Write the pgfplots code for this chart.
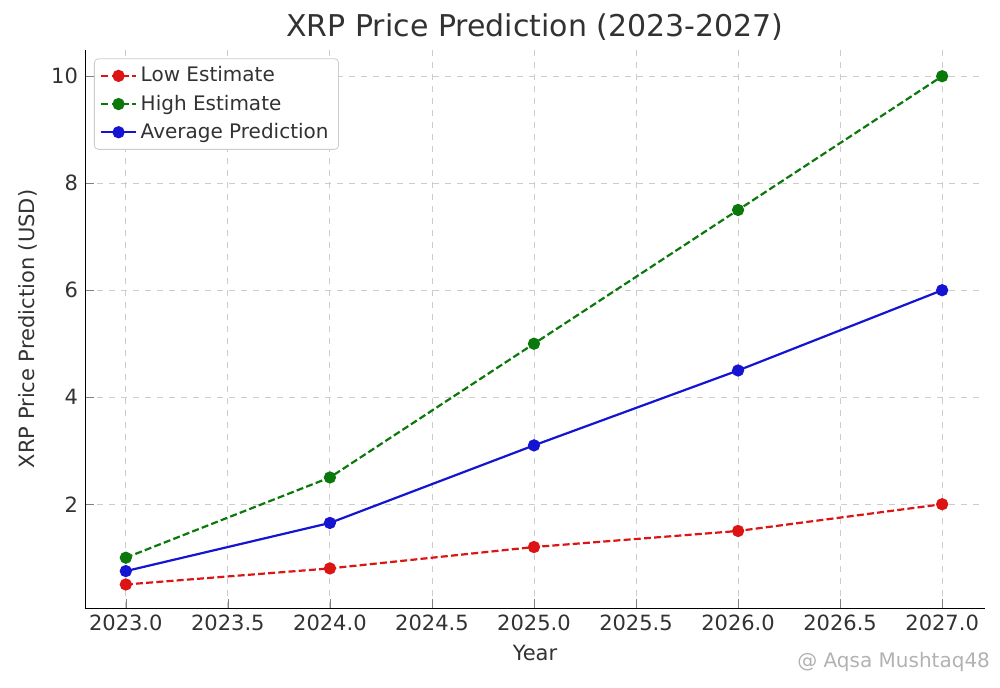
\documentclass[border=0pt]{standalone}
\usepackage{pgfplots}
\pgfplotsset{compat=1.18}
\usepackage{fontspec}
\setmainfont{DejaVu Sans}
\definecolor{mred}{RGB}{220,20,20}
\definecolor{mgreen}{RGB}{10,120,10}
\definecolor{mblue}{RGB}{20,20,210}
\definecolor{txt}{RGB}{50,50,50}
\begin{document}
\begin{tikzpicture}
\begin{axis}[
  at={(0,0)}, anchor=south west,
  scale only axis, width=450pt, height=279pt,
  xmin=2022.8, xmax=2027.21, ymin=0.06, ymax=10.49,
  xtick={2023,2023.5,...,2027}, ytick={2,4,6,8,10},
  xticklabel style={/pgf/number format/.cd,fixed,fixed zerofill,precision=1,use period,1000 sep={}},
  /pgf/number format/assume math mode=true,
  tick label style={font=\fontsize{10.5}{12}\selectfont, text=txt},
  grid=major, grid style={dashed,gray!40},
  axis x line*=bottom, axis y line*=left,
  xlabel={Year}, ylabel={XRP Price Prediction (USD)},
  label style={font=\fontsize{10.5}{12}\selectfont, text=txt},
  title={XRP Price Prediction (2023-2027)},
  title style={font=\fontsize{15}{17}\selectfont, text=txt, yshift=-5pt},
  legend style={at={(0.01,0.985)}, anchor=north west, font=\fontsize{10}{12}\selectfont, text=txt, draw=gray!40, rounded corners=2pt, row sep=1pt},
  legend cell align=left,
  every axis plot/.append style={line width=1.1pt},
]
\addplot[mred, dash pattern=on 3.5pt off 1.6pt, mark=*, mark options={solid}, mark size=2.5pt] coordinates {(2023,0.5)(2024,0.8)(2025,1.2)(2026,1.5)(2027,2.0)};
\addlegendentry{Low Estimate}
\addplot[mgreen, dash pattern=on 3.5pt off 1.6pt, mark=*, mark options={solid}, mark size=2.5pt] coordinates {(2023,1.0)(2024,2.5)(2025,5.0)(2026,7.5)(2027,10.0)};
\addlegendentry{High Estimate}
\addplot[mblue, mark=*, mark size=2.5pt] coordinates {(2023,0.75)(2024,1.65)(2025,3.1)(2026,4.5)(2027,6.0)};
\addlegendentry{Average Prediction}
\end{axis}
\node[anchor=east, text=gray!60, font=\fontsize{10}{12}\selectfont] at (456pt,-27pt) {@ Aqsa Mushtaq48};
\useasboundingbox (-42.5pt,-39.5pt) rectangle (457.5pt,304pt);
\end{tikzpicture}
\end{document}
